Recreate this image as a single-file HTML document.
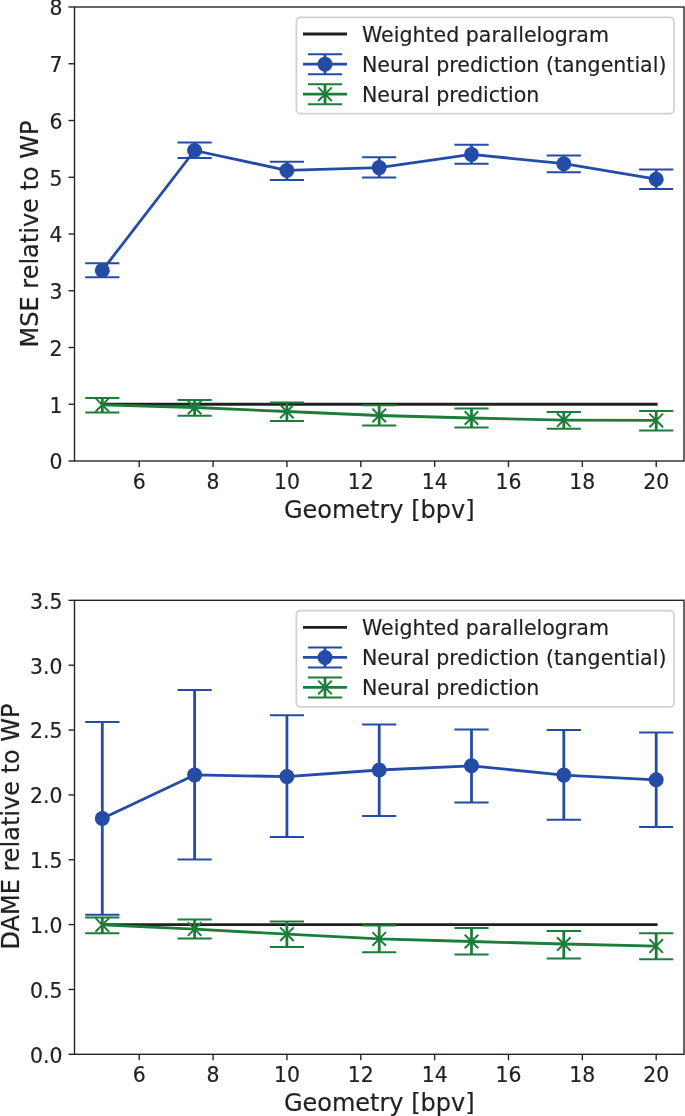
<!DOCTYPE html><html><head><meta charset="utf-8"><title>Figure</title><style>html,body{margin:0;padding:0;background:#fff}svg{display:block}svg text{stroke:#231f20;stroke-width:0.2px}</style></head><body><svg width="685" height="1116" viewBox="0 0 685 1116" font-family="'DejaVu Sans', 'Liberation Sans', sans-serif" fill="#231f20"><rect width="685" height="1116" fill="#fff"/><path d="M100.90 404.25H657.60" stroke="#231f20" stroke-width="2.8"/><path d="M102.30 263.20V277.30" stroke="#244ca7" stroke-width="2.8" fill="none"/><path d="M85.20 263.20H119.40M85.20 277.30H119.40" stroke="#244ca7" stroke-width="2.0" fill="none"/><path d="M194.60 142.60V158.00" stroke="#244ca7" stroke-width="2.8" fill="none"/><path d="M177.50 142.60H211.70M177.50 158.00H211.70" stroke="#244ca7" stroke-width="2.0" fill="none"/><path d="M286.90 161.70V180.00" stroke="#244ca7" stroke-width="2.8" fill="none"/><path d="M269.80 161.70H304.00M269.80 180.00H304.00" stroke="#244ca7" stroke-width="2.0" fill="none"/><path d="M379.20 157.20V177.60" stroke="#244ca7" stroke-width="2.8" fill="none"/><path d="M362.10 157.20H396.30M362.10 177.60H396.30" stroke="#244ca7" stroke-width="2.0" fill="none"/><path d="M471.50 144.80V163.70" stroke="#244ca7" stroke-width="2.8" fill="none"/><path d="M454.40 144.80H488.60M454.40 163.70H488.60" stroke="#244ca7" stroke-width="2.0" fill="none"/><path d="M563.80 155.60V172.20" stroke="#244ca7" stroke-width="2.8" fill="none"/><path d="M546.70 155.60H580.90M546.70 172.20H580.90" stroke="#244ca7" stroke-width="2.0" fill="none"/><path d="M656.20 169.50V188.90" stroke="#244ca7" stroke-width="2.8" fill="none"/><path d="M639.10 169.50H673.30M639.10 188.90H673.30" stroke="#244ca7" stroke-width="2.0" fill="none"/><polyline points="102.30,270.40 194.60,150.50 286.90,170.40 379.20,167.60 471.50,154.40 563.80,163.70 656.20,179.20" stroke="#244ca7" stroke-width="2.8" fill="none" stroke-linejoin="round"/><circle cx="102.30" cy="270.40" r="7.5" fill="#244ca7"/><circle cx="194.60" cy="150.50" r="7.5" fill="#244ca7"/><circle cx="286.90" cy="170.40" r="7.5" fill="#244ca7"/><circle cx="379.20" cy="167.60" r="7.5" fill="#244ca7"/><circle cx="471.50" cy="154.40" r="7.5" fill="#244ca7"/><circle cx="563.80" cy="163.70" r="7.5" fill="#244ca7"/><circle cx="656.20" cy="179.20" r="7.5" fill="#244ca7"/><path d="M102.30 397.90V412.50" stroke="#1b7d38" stroke-width="2.8" fill="none"/><path d="M85.20 397.90H119.40M85.20 412.50H119.40" stroke="#1b7d38" stroke-width="2.0" fill="none"/><path d="M194.60 400.00V415.70" stroke="#1b7d38" stroke-width="2.8" fill="none"/><path d="M177.50 400.00H211.70M177.50 415.70H211.70" stroke="#1b7d38" stroke-width="2.0" fill="none"/><path d="M286.90 402.50V421.00" stroke="#1b7d38" stroke-width="2.8" fill="none"/><path d="M269.80 402.50H304.00M269.80 421.00H304.00" stroke="#1b7d38" stroke-width="2.0" fill="none"/><path d="M379.20 405.30V425.50" stroke="#1b7d38" stroke-width="2.8" fill="none"/><path d="M362.10 405.30H396.30M362.10 425.50H396.30" stroke="#1b7d38" stroke-width="2.0" fill="none"/><path d="M471.50 408.50V427.50" stroke="#1b7d38" stroke-width="2.8" fill="none"/><path d="M454.40 408.50H488.60M454.40 427.50H488.60" stroke="#1b7d38" stroke-width="2.0" fill="none"/><path d="M563.80 411.90V428.80" stroke="#1b7d38" stroke-width="2.8" fill="none"/><path d="M546.70 411.90H580.90M546.70 428.80H580.90" stroke="#1b7d38" stroke-width="2.0" fill="none"/><path d="M656.20 410.90V430.40" stroke="#1b7d38" stroke-width="2.8" fill="none"/><path d="M639.10 410.90H673.30M639.10 430.40H673.30" stroke="#1b7d38" stroke-width="2.0" fill="none"/><polyline points="102.30,404.90 194.60,407.50 286.90,411.50 379.20,415.50 471.50,418.00 563.80,420.10 656.20,420.40" stroke="#1b7d38" stroke-width="2.8" fill="none" stroke-linejoin="round"/><path d="M95.50 398.10L109.10 411.70M95.50 411.70L109.10 398.10" stroke="#1b7d38" stroke-width="2.0" fill="none"/><path d="M187.80 400.70L201.40 414.30M187.80 414.30L201.40 400.70" stroke="#1b7d38" stroke-width="2.0" fill="none"/><path d="M280.10 404.70L293.70 418.30M280.10 418.30L293.70 404.70" stroke="#1b7d38" stroke-width="2.0" fill="none"/><path d="M372.40 408.70L386.00 422.30M372.40 422.30L386.00 408.70" stroke="#1b7d38" stroke-width="2.0" fill="none"/><path d="M464.70 411.20L478.30 424.80M464.70 424.80L478.30 411.20" stroke="#1b7d38" stroke-width="2.0" fill="none"/><path d="M557.00 413.30L570.60 426.90M557.00 426.90L570.60 413.30" stroke="#1b7d38" stroke-width="2.0" fill="none"/><path d="M649.40 413.60L663.00 427.20M649.40 427.20L663.00 413.60" stroke="#1b7d38" stroke-width="2.0" fill="none"/><rect x="74.5" y="7.0" width="609.50" height="454.00" fill="none" stroke="#231f20" stroke-width="1.36"/><path d="M74.5 461.00h-6.0" stroke="#231f20" stroke-width="1.36"/><text x="62.50" y="469.35" font-size="20.4" text-anchor="end">0</text><path d="M74.5 404.25h-6.0" stroke="#231f20" stroke-width="1.36"/><text x="62.50" y="412.60" font-size="20.4" text-anchor="end">1</text><path d="M74.5 347.50h-6.0" stroke="#231f20" stroke-width="1.36"/><text x="62.50" y="355.85" font-size="20.4" text-anchor="end">2</text><path d="M74.5 290.75h-6.0" stroke="#231f20" stroke-width="1.36"/><text x="62.50" y="299.10" font-size="20.4" text-anchor="end">3</text><path d="M74.5 234.00h-6.0" stroke="#231f20" stroke-width="1.36"/><text x="62.50" y="242.35" font-size="20.4" text-anchor="end">4</text><path d="M74.5 177.25h-6.0" stroke="#231f20" stroke-width="1.36"/><text x="62.50" y="185.60" font-size="20.4" text-anchor="end">5</text><path d="M74.5 120.50h-6.0" stroke="#231f20" stroke-width="1.36"/><text x="62.50" y="128.85" font-size="20.4" text-anchor="end">6</text><path d="M74.5 63.75h-6.0" stroke="#231f20" stroke-width="1.36"/><text x="62.50" y="72.10" font-size="20.4" text-anchor="end">7</text><path d="M74.5 7.00h-6.0" stroke="#231f20" stroke-width="1.36"/><text x="62.50" y="15.35" font-size="20.4" text-anchor="end">8</text><path d="M139.23 461.0v6.0" stroke="#231f20" stroke-width="1.36"/><text x="139.23" y="489.00" font-size="20.4" text-anchor="middle">6</text><path d="M213.08 461.0v6.0" stroke="#231f20" stroke-width="1.36"/><text x="213.08" y="489.00" font-size="20.4" text-anchor="middle">8</text><path d="M286.94 461.0v6.0" stroke="#231f20" stroke-width="1.36"/><text x="286.94" y="489.00" font-size="20.4" text-anchor="middle">10</text><path d="M360.79 461.0v6.0" stroke="#231f20" stroke-width="1.36"/><text x="360.79" y="489.00" font-size="20.4" text-anchor="middle">12</text><path d="M434.64 461.0v6.0" stroke="#231f20" stroke-width="1.36"/><text x="434.64" y="489.00" font-size="20.4" text-anchor="middle">14</text><path d="M508.50 461.0v6.0" stroke="#231f20" stroke-width="1.36"/><text x="508.50" y="489.00" font-size="20.4" text-anchor="middle">16</text><path d="M582.35 461.0v6.0" stroke="#231f20" stroke-width="1.36"/><text x="582.35" y="489.00" font-size="20.4" text-anchor="middle">18</text><path d="M656.20 461.0v6.0" stroke="#231f20" stroke-width="1.36"/><text x="656.20" y="489.00" font-size="20.4" text-anchor="middle">20</text><text x="379.25" y="518.00" font-size="24.0" text-anchor="middle">Geometry [bpv]</text><text transform="translate(38.00 234.00) rotate(-90)" font-size="24.0" text-anchor="middle">MSE relative to WP</text><rect x="296.4" y="17.30" width="377.6" height="96.3" rx="3.8" fill="#fff" fill-opacity="0.8" stroke="#cfd1d2" stroke-width="1.75"/><path d="M303.00 34.00H347.00" stroke="#231f20" stroke-width="2.8"/><path d="M325.00 54.15V74.15" stroke="#244ca7" stroke-width="2.8" fill="none"/><path d="M307.90 54.15H342.10M307.90 74.15H342.10" stroke="#244ca7" stroke-width="2.0" fill="none"/><path d="M303.00 64.15H347.00" stroke="#244ca7" stroke-width="2.8"/><circle cx="325.00" cy="64.15" r="7.5" fill="#244ca7"/><path d="M325.00 84.15V104.15" stroke="#1b7d38" stroke-width="2.8" fill="none"/><path d="M307.90 84.15H342.10M307.90 104.15H342.10" stroke="#1b7d38" stroke-width="2.0" fill="none"/><path d="M303.00 94.15H347.00" stroke="#1b7d38" stroke-width="2.8"/><path d="M318.20 87.35L331.80 100.95M318.20 100.95L331.80 87.35" stroke="#1b7d38" stroke-width="2.0" fill="none"/><text x="362.0" y="41.90" font-size="20.55">Weighted parallelogram</text><text x="362.0" y="72.05" font-size="20.55">Neural prediction (tangential)</text><text x="362.0" y="102.05" font-size="20.55">Neural prediction</text><path d="M100.90 924.60H657.60" stroke="#231f20" stroke-width="2.8"/><path d="M102.30 722.00V914.80" stroke="#244ca7" stroke-width="2.8" fill="none"/><path d="M85.20 722.00H119.40M85.20 914.80H119.40" stroke="#244ca7" stroke-width="2.0" fill="none"/><path d="M194.60 689.90V859.60" stroke="#244ca7" stroke-width="2.8" fill="none"/><path d="M177.50 689.90H211.70M177.50 859.60H211.70" stroke="#244ca7" stroke-width="2.0" fill="none"/><path d="M286.90 715.20V837.00" stroke="#244ca7" stroke-width="2.8" fill="none"/><path d="M269.80 715.20H304.00M269.80 837.00H304.00" stroke="#244ca7" stroke-width="2.0" fill="none"/><path d="M379.20 724.40V816.00" stroke="#244ca7" stroke-width="2.8" fill="none"/><path d="M362.10 724.40H396.30M362.10 816.00H396.30" stroke="#244ca7" stroke-width="2.0" fill="none"/><path d="M471.50 729.50V802.60" stroke="#244ca7" stroke-width="2.8" fill="none"/><path d="M454.40 729.50H488.60M454.40 802.60H488.60" stroke="#244ca7" stroke-width="2.0" fill="none"/><path d="M563.80 730.00V819.70" stroke="#244ca7" stroke-width="2.8" fill="none"/><path d="M546.70 730.00H580.90M546.70 819.70H580.90" stroke="#244ca7" stroke-width="2.0" fill="none"/><path d="M656.20 732.60V827.00" stroke="#244ca7" stroke-width="2.8" fill="none"/><path d="M639.10 732.60H673.30M639.10 827.00H673.30" stroke="#244ca7" stroke-width="2.0" fill="none"/><polyline points="102.30,818.40 194.60,774.90 286.90,776.60 379.20,770.00 471.50,765.80 563.80,775.10 656.20,779.80" stroke="#244ca7" stroke-width="2.8" fill="none" stroke-linejoin="round"/><circle cx="102.30" cy="818.40" r="7.5" fill="#244ca7"/><circle cx="194.60" cy="774.90" r="7.5" fill="#244ca7"/><circle cx="286.90" cy="776.60" r="7.5" fill="#244ca7"/><circle cx="379.20" cy="770.00" r="7.5" fill="#244ca7"/><circle cx="471.50" cy="765.80" r="7.5" fill="#244ca7"/><circle cx="563.80" cy="775.10" r="7.5" fill="#244ca7"/><circle cx="656.20" cy="779.80" r="7.5" fill="#244ca7"/><path d="M102.30 917.60V933.30" stroke="#1b7d38" stroke-width="2.8" fill="none"/><path d="M85.20 917.60H119.40M85.20 933.30H119.40" stroke="#1b7d38" stroke-width="2.0" fill="none"/><path d="M194.60 919.60V938.60" stroke="#1b7d38" stroke-width="2.8" fill="none"/><path d="M177.50 919.60H211.70M177.50 938.60H211.70" stroke="#1b7d38" stroke-width="2.0" fill="none"/><path d="M286.90 921.50V946.90" stroke="#1b7d38" stroke-width="2.8" fill="none"/><path d="M269.80 921.50H304.00M269.80 946.90H304.00" stroke="#1b7d38" stroke-width="2.0" fill="none"/><path d="M379.20 925.50V952.30" stroke="#1b7d38" stroke-width="2.8" fill="none"/><path d="M362.10 925.50H396.30M362.10 952.30H396.30" stroke="#1b7d38" stroke-width="2.0" fill="none"/><path d="M471.50 928.00V954.40" stroke="#1b7d38" stroke-width="2.8" fill="none"/><path d="M454.40 928.00H488.60M454.40 954.40H488.60" stroke="#1b7d38" stroke-width="2.0" fill="none"/><path d="M563.80 931.10V958.50" stroke="#1b7d38" stroke-width="2.8" fill="none"/><path d="M546.70 931.10H580.90M546.70 958.50H580.90" stroke="#1b7d38" stroke-width="2.0" fill="none"/><path d="M656.20 933.20V959.20" stroke="#1b7d38" stroke-width="2.8" fill="none"/><path d="M639.10 933.20H673.30M639.10 959.20H673.30" stroke="#1b7d38" stroke-width="2.0" fill="none"/><polyline points="102.30,924.90 194.60,929.10 286.90,934.20 379.20,938.90 471.50,941.50 563.80,944.00 656.20,946.10" stroke="#1b7d38" stroke-width="2.8" fill="none" stroke-linejoin="round"/><path d="M95.50 918.10L109.10 931.70M95.50 931.70L109.10 918.10" stroke="#1b7d38" stroke-width="2.0" fill="none"/><path d="M187.80 922.30L201.40 935.90M187.80 935.90L201.40 922.30" stroke="#1b7d38" stroke-width="2.0" fill="none"/><path d="M280.10 927.40L293.70 941.00M280.10 941.00L293.70 927.40" stroke="#1b7d38" stroke-width="2.0" fill="none"/><path d="M372.40 932.10L386.00 945.70M372.40 945.70L386.00 932.10" stroke="#1b7d38" stroke-width="2.0" fill="none"/><path d="M464.70 934.70L478.30 948.30M464.70 948.30L478.30 934.70" stroke="#1b7d38" stroke-width="2.0" fill="none"/><path d="M557.00 937.20L570.60 950.80M557.00 950.80L570.60 937.20" stroke="#1b7d38" stroke-width="2.0" fill="none"/><path d="M649.40 939.30L663.00 952.90M649.40 952.90L663.00 939.30" stroke="#1b7d38" stroke-width="2.0" fill="none"/><rect x="74.5" y="600.3" width="609.50" height="454.00" fill="none" stroke="#231f20" stroke-width="1.36"/><path d="M74.5 1054.30h-6.0" stroke="#231f20" stroke-width="1.36"/><text x="62.50" y="1062.65" font-size="20.4" text-anchor="end">0.0</text><path d="M74.5 989.45h-6.0" stroke="#231f20" stroke-width="1.36"/><text x="62.50" y="997.80" font-size="20.4" text-anchor="end">0.5</text><path d="M74.5 924.60h-6.0" stroke="#231f20" stroke-width="1.36"/><text x="62.50" y="932.95" font-size="20.4" text-anchor="end">1.0</text><path d="M74.5 859.75h-6.0" stroke="#231f20" stroke-width="1.36"/><text x="62.50" y="868.10" font-size="20.4" text-anchor="end">1.5</text><path d="M74.5 794.90h-6.0" stroke="#231f20" stroke-width="1.36"/><text x="62.50" y="803.25" font-size="20.4" text-anchor="end">2.0</text><path d="M74.5 730.05h-6.0" stroke="#231f20" stroke-width="1.36"/><text x="62.50" y="738.40" font-size="20.4" text-anchor="end">2.5</text><path d="M74.5 665.20h-6.0" stroke="#231f20" stroke-width="1.36"/><text x="62.50" y="673.55" font-size="20.4" text-anchor="end">3.0</text><path d="M74.5 600.35h-6.0" stroke="#231f20" stroke-width="1.36"/><text x="62.50" y="608.70" font-size="20.4" text-anchor="end">3.5</text><path d="M139.23 1054.3v6.0" stroke="#231f20" stroke-width="1.36"/><text x="139.23" y="1082.20" font-size="20.4" text-anchor="middle">6</text><path d="M213.08 1054.3v6.0" stroke="#231f20" stroke-width="1.36"/><text x="213.08" y="1082.20" font-size="20.4" text-anchor="middle">8</text><path d="M286.94 1054.3v6.0" stroke="#231f20" stroke-width="1.36"/><text x="286.94" y="1082.20" font-size="20.4" text-anchor="middle">10</text><path d="M360.79 1054.3v6.0" stroke="#231f20" stroke-width="1.36"/><text x="360.79" y="1082.20" font-size="20.4" text-anchor="middle">12</text><path d="M434.64 1054.3v6.0" stroke="#231f20" stroke-width="1.36"/><text x="434.64" y="1082.20" font-size="20.4" text-anchor="middle">14</text><path d="M508.50 1054.3v6.0" stroke="#231f20" stroke-width="1.36"/><text x="508.50" y="1082.20" font-size="20.4" text-anchor="middle">16</text><path d="M582.35 1054.3v6.0" stroke="#231f20" stroke-width="1.36"/><text x="582.35" y="1082.20" font-size="20.4" text-anchor="middle">18</text><path d="M656.20 1054.3v6.0" stroke="#231f20" stroke-width="1.36"/><text x="656.20" y="1082.20" font-size="20.4" text-anchor="middle">20</text><text x="379.25" y="1111.20" font-size="24.0" text-anchor="middle">Geometry [bpv]</text><text transform="translate(18.60 826.50) rotate(-90)" font-size="24.0" text-anchor="middle">DAME relative to WP</text><rect x="296.4" y="610.60" width="377.6" height="96.3" rx="3.8" fill="#fff" fill-opacity="0.8" stroke="#cfd1d2" stroke-width="1.75"/><path d="M303.00 627.30H347.00" stroke="#231f20" stroke-width="2.8"/><path d="M325.00 647.45V667.45" stroke="#244ca7" stroke-width="2.8" fill="none"/><path d="M307.90 647.45H342.10M307.90 667.45H342.10" stroke="#244ca7" stroke-width="2.0" fill="none"/><path d="M303.00 657.45H347.00" stroke="#244ca7" stroke-width="2.8"/><circle cx="325.00" cy="657.45" r="7.5" fill="#244ca7"/><path d="M325.00 677.45V697.45" stroke="#1b7d38" stroke-width="2.8" fill="none"/><path d="M307.90 677.45H342.10M307.90 697.45H342.10" stroke="#1b7d38" stroke-width="2.0" fill="none"/><path d="M303.00 687.45H347.00" stroke="#1b7d38" stroke-width="2.8"/><path d="M318.20 680.65L331.80 694.25M318.20 694.25L331.80 680.65" stroke="#1b7d38" stroke-width="2.0" fill="none"/><text x="362.0" y="635.20" font-size="20.55">Weighted parallelogram</text><text x="362.0" y="665.35" font-size="20.55">Neural prediction (tangential)</text><text x="362.0" y="695.35" font-size="20.55">Neural prediction</text></svg></body></html>
